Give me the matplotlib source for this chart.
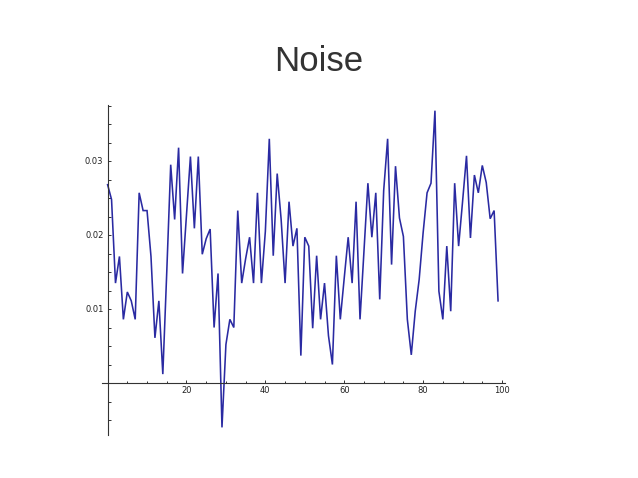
import matplotlib
matplotlib.use("Agg")
import matplotlib.pyplot as plt
from matplotlib.ticker import MultipleLocator, FixedLocator

x = list(range(100))
noise = [
    0.0268, 0.0248, 0.0135, 0.0171, 0.0086, 0.0123, 0.0111, 0.0086, 0.0257, 0.0233,
    0.0233, 0.0171, 0.0061, 0.0111, 0.0012, 0.0150, 0.0295, 0.0221, 0.0318, 0.0148,
    0.0227, 0.0306, 0.0209, 0.0306, 0.0174, 0.0195, 0.0208, 0.0075, 0.0148, -0.0060,
    0.0052, 0.0086, 0.0075, 0.0233, 0.0135, 0.0168, 0.0197, 0.0135, 0.0257, 0.0135,
    0.0205, 0.0330, 0.0172, 0.0283, 0.0221, 0.0135, 0.0245, 0.0185, 0.0209, 0.0037,
    0.0197, 0.0185, 0.0074, 0.0172, 0.0086, 0.0135, 0.0064, 0.0025, 0.0172, 0.0086,
    0.0142, 0.0197, 0.0135, 0.0245, 0.0086, 0.0178, 0.0270, 0.0197, 0.0257, 0.0113,
    0.0260, 0.0330, 0.0160, 0.0293, 0.0223, 0.0198, 0.0086, 0.0038, 0.0097, 0.0140,
    0.0203, 0.0257, 0.0270, 0.0368, 0.0124, 0.0086, 0.0185, 0.0097, 0.0270, 0.0185,
    0.0245, 0.0307, 0.0196, 0.0281, 0.0257, 0.0294, 0.0271, 0.0222, 0.0233, 0.0111,
]
title = "Noise"
x_major = [20, 40, 60, 80, 100]
y_major = [0.01, 0.02, 0.03]
y_labels = ["0.01", "0.02", "0.03"]
y_minor = [i * 0.0025 for i in range(-2, 16)]

W, H = 638, 478
fig = plt.figure(figsize=(W / 100, H / 100), dpi=100)

# pixel geometry of the axes box
left_px, right_px, top_px, bot_px = 100, 510, 100, 440
ax = fig.add_axes([left_px / W, 1 - bot_px / H, (right_px - left_px) / W, (bot_px - top_px) / H])

x0_px, xscale = 107.6, 3.944
y0_px, yscale = 383.0, 7400.0
ax.set_xlim((left_px - x0_px) / xscale, (right_px - x0_px) / xscale)
ax.set_ylim((y0_px - bot_px) / yscale, (y0_px - top_px) / yscale)

ax.plot(x, noise, color="#2a2aa2", lw=1.15, solid_joinstyle="miter")

for s in ["top", "right"]:
    ax.spines[s].set_visible(False)
for s in ["left", "bottom"]:
    ax.spines[s].set_position(("data", 0))
    ax.spines[s].set_color("#333333")
    ax.spines[s].set_linewidth(0.8)
ax.spines["left"].set_bounds((y0_px - 435) / yscale, (y0_px - 105) / yscale)
ax.spines["bottom"].set_bounds((102 - x0_px) / xscale, (505 - x0_px) / xscale)

ax.xaxis.set_major_locator(FixedLocator(x_major))
ax.xaxis.set_minor_locator(MultipleLocator(5))
ax.yaxis.set_major_locator(FixedLocator(y_major))
ax.set_yticklabels(y_labels)
ax.yaxis.set_minor_locator(FixedLocator(y_minor))

ax.tick_params(axis="both", which="both", direction="in", colors="#333333",
               labelcolor="#222222", labelsize=6, width=0.7)
ax.tick_params(axis="both", which="major", length=2.5)
ax.tick_params(axis="both", which="minor", length=1.8)
ax.tick_params(axis="x", pad=2)
ax.tick_params(axis="y", pad=3)
for lab in ax.get_xticklabels() + ax.get_yticklabels():
    lab.set_family("DejaVu Sans")

fig.text(318.5 / W, 1 - 70.7 / H, title, ha="center", va="baseline",
         fontsize=25, color="#333333", family="Liberation Sans")

fig.savefig("out.png", dpi=100)
